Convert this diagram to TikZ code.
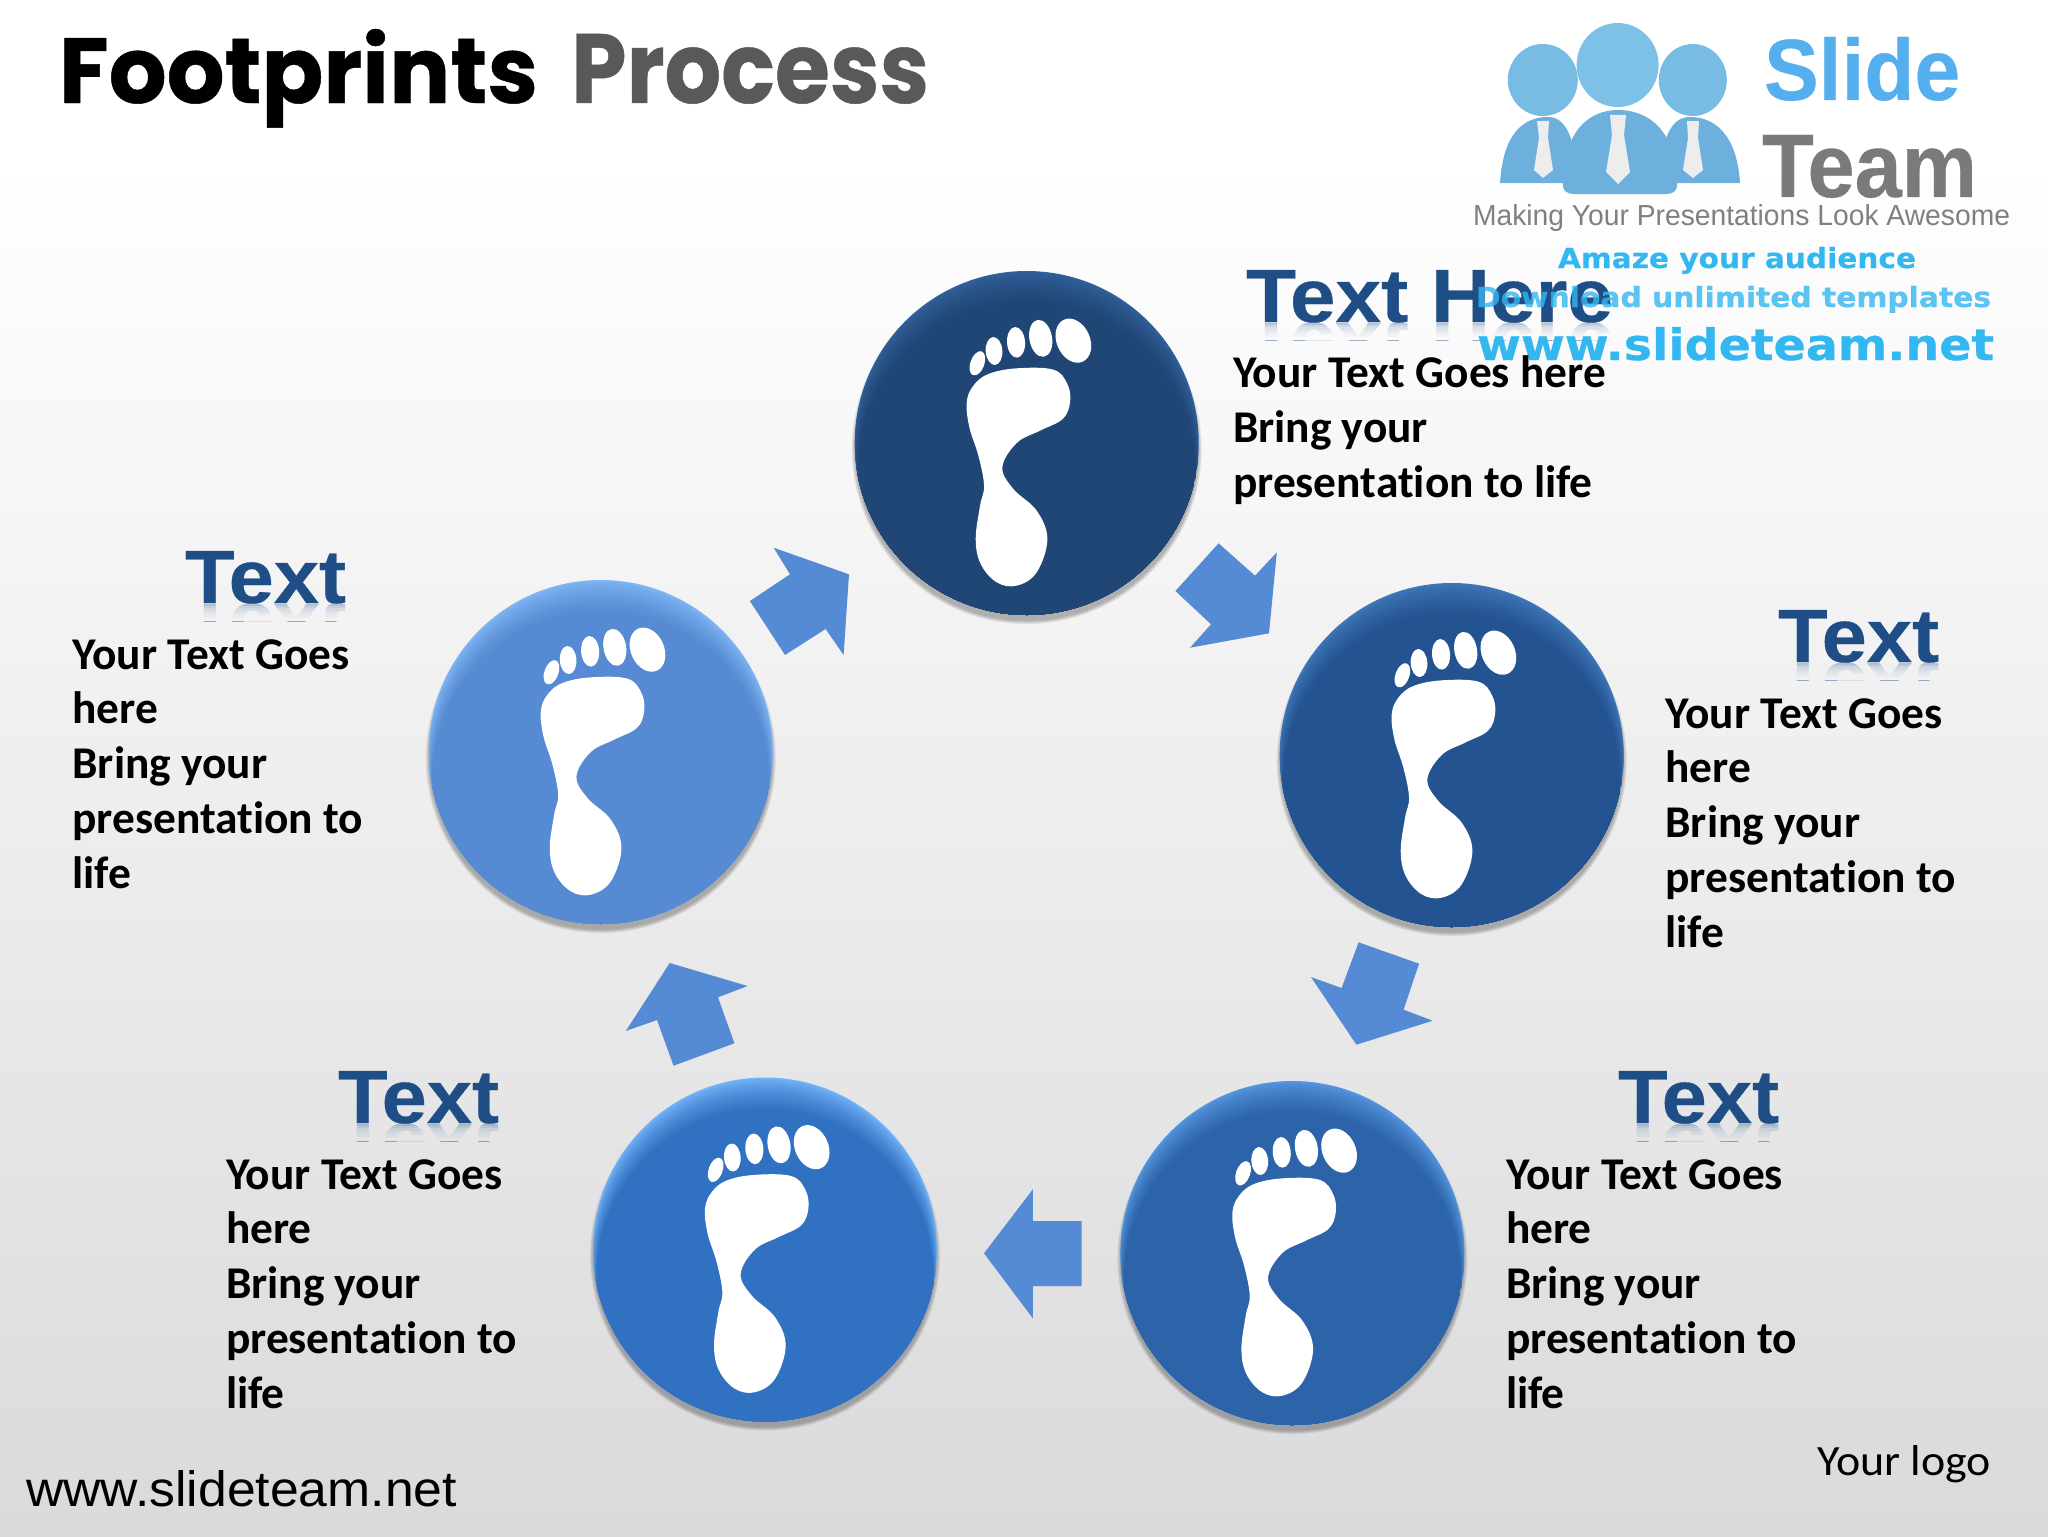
\documentclass[tikz,border=0pt]{standalone}
\usepackage{fontspec}
\usepackage{graphicx}
\setmainfont{Liberation Sans}
\newfontfamily\bodyfont[Ligatures=NoCommon]{Carlito}
\newfontfamily\titlefont[FakeBold=0.5]{Poppins Bold}
\newfontfamily\webfont[FakeBold=0.5]{DejaVu Sans Bold}
\newfontfamily\headfont[FakeBold=0.4]{Liberation Sans Bold}
\newdimen\pxu \pxu=.5pt
\definecolor{headblue}{HTML}{1F4E86}
\definecolor{arrowblue}{HTML}{558BD5}
\definecolor{logoblue}{HTML}{6DB0DE}
\definecolor{logohead}{HTML}{7DC2E6}
\definecolor{logoside}{HTML}{78BBE3}
\definecolor{logotext}{HTML}{55AEEE}
\definecolor{webblue}{HTML}{33B7F1}
\definecolor{bgbottom}{HTML}{DADADC}
\tikzset{
  x=.5pt,y=-.5pt,
  txt/.style={inner sep=0pt,outer sep=0pt,anchor=base west},
  bodytxt/.style={inner sep=0pt,outer sep=0pt,anchor=north west,align=left,text=black,
    font=\bodyfont\bfseries\fontsize{22.7}{27.45}\selectfont},
  flowarrow/.style={fill=arrowblue},
  ballnode/.style={circle,minimum size=172pt,inner sep=0pt,outer sep=0pt}
}
% name x baseline width height colour font text
\newcommand{\fittext}[8]{\node[txt,text=#6,font=#7] (#1) at (#2,#3) {\resizebox{#4\pxu}{#5\pxu}{#8}};}
% heading with reflection: name x baseline width text
\newcommand{\headlabel}[5]{%
  \pgfmathsetmacro\bgf{(#3-159)/13.77}%
  \colorlet{hbg}{bgbottom!\bgf!white}%
  \colorlet{hrefl}{headblue!45!hbg}%
  \node[txt,text=headblue,font=\headfont] (#1) at (#2,#3) {\resizebox{#4\pxu}{52\pxu}{#5}};
  \begin{scope}
    \clip (#2-2,#3+1) rectangle (#2+#4+2,#3+18);
    \node[txt,text=hrefl,font=\headfont] (#1r) at (#2,#3+1) {\scalebox{1}[-1]{\resizebox{#4\pxu}{52\pxu}{#5}}};
    \foreach \k in {0,...,6}{\fill[hbg,opacity=.32] (#2-2,#3+1+\k*2.2) rectangle (#2+#4+2,#3+18);}
    \fill[hbg] (#2-2,#3+15) rectangle (#2+#4+2,#3+18);
  \end{scope}}
% the foot, in a coordinate system of one third of a pixel
\newcommand{\foot}[1]{%
  \begin{scope}[shift={(#1)},x=.16667pt,y=-.16667pt,shift={(-560,-552)}]
    \fill[white] plot[smooth cycle,tension=.62] coordinates {
      (530,328) (640,332) (682,375) (690,430) (668,480) (600,515) (530,552) (487,625)
      (520,690) (590,755) (622,840) (590,940) (530,980) (470,970) (422,915) (407,840)
      (420,740) (432,680) (415,590) (388,505) (380,430) (400,380) (445,345)};
    \fill[white,rotate around={24:(700,245)}] (700,245) ellipse (50 and 69);
    \fill[white,rotate around={10:(602,238)}] (602,238) ellipse (34 and 56);
    \fill[white,rotate around={4:(528,250)}] (528,250) ellipse (27 and 46);
    \fill[white,rotate around={4:(462,276)}] (462,276) ellipse (25 and 42);
    \fill[white,rotate around={-20:(412,313)}] (412,313) ellipse (21 and 38);
  \end{scope}}
% name x y base light
\newcommand{\ball}[5]{%
  \definecolor{ballbase}{HTML}{#4}\definecolor{balllight}{HTML}{#5}%
  \foreach \s in {6,5,4,3,2,1}{\fill[black,opacity=.05] (#2,#3+6) circle[radius=171+\s*.7];}
  \node[ballnode,fill=balllight] (#1) at (#2,#3) {};
  \begin{scope}
    \clip (#2,#3) circle[radius=172];
    \foreach \d in {1,...,20}{
      \pgfmathsetmacro\mixv{100*(\d/20)^.75}
      \fill[ballbase!\mixv!balllight] (#2,#3+\d*1.35) circle[radius=172-\d*.2];
    }
  \end{scope}
  \foot{#2,#3}}
\begin{document}
\begin{tikzpicture}
\useasboundingbox (0,0) rectangle (2048,1536);
\fill[white] (0,0) rectangle (2048,160);
\shade[top color=white,bottom color=bgbottom] (0,159) rectangle (2048,1536);

% title
\fittext{title1}{59}{103}{479}{74}{black}{\titlefont}{Footprints}
\fittext{title2}{571}{103}{358}{69}{black!65}{\titlefont}{Process}

% headings
\headlabel{headtop}{1246}{322}{367}{Text Here}
\headlabel{headleft}{185}{603}{161}{Text}
\headlabel{headright}{1778}{662}{161}{Text}
\headlabel{headbl}{338}{1123}{161}{Text}
\headlabel{headbr}{1618}{1123}{161}{Text}

% logo
\fill[logoside] (1542.8,80) ellipse (35 and 36);
\fill[logoside] (1692.8,80) ellipse (34 and 36);
\fill[logohead] (1617.6,65) ellipse (41 and 42);
\fill[logoblue] (1500,183) .. controls (1503,135) and (1522,117) .. (1548,117) .. controls (1565,117) and (1575,135) .. (1578,183) -- cycle;
\fill[logoblue] (1740,183) .. controls (1737,135) and (1715,117) .. (1690,117) .. controls (1672,117) and (1662,135) .. (1658,183) -- cycle;
\fill[logoblue] (1563,185) .. controls (1563,130) and (1590,110) .. (1618,110) .. controls (1648,110) and (1677,130) .. (1677,185) .. controls (1677,192) and (1672,194) .. (1665,194) -- (1575,194) .. controls (1568,194) and (1563,192) .. (1563,185) -- cycle;
\fill[white!93!black] (1537,121) -- (1549,121) -- (1548,138) -- (1553,170) -- (1543,178) -- (1534,170) -- (1539,138) -- cycle;
\fill[white!93!black] (1687,121) -- (1699,121) -- (1698,138) -- (1703,170) -- (1693,178) -- (1683,170) -- (1688,138) -- cycle;
\fill[white!93!black] (1610,115) -- (1626,115) -- (1624,135) -- (1630,172) -- (1618,184) -- (1606,172) -- (1612,135) -- cycle;
\fittext{logoslide}{1764}{100}{196}{63}{logotext}{\headfont}{Slide}
\fittext{logoteam}{1762}{197}{215}{62}{black!52}{\headfont}{Team}
\fittext{logotag}{1473}{225}{537}{21}{black!50}{}{Making Your Presentations Look Awesome}
\fittext{logoamaze}{1558}{268}{358}{21}{webblue}{\webfont}{Amaze your audience}
\begin{scope}[opacity=.8]
\fittext{logodown}{1476}{307}{515}{21}{webblue}{\webfont}{Download unlimited templates}
\end{scope}
\fittext{logoweb}{1477}{360}{517}{33}{webblue}{\webfont}{www.slideteam.net}

% circles
\ball{ctop}{1026.7}{443}{1F4675}{32609A}
\ball{cright}{1451.7}{755}{245391}{3F77B8}
\ball{cbr}{1292.4}{1253}{2C63A9}{5596DE}
\ball{cbl}{765}{1249.5}{3171C2}{72B4F8}
\ball{cleft}{600.8}{752}{568AD2}{7FB6F4}

% arrows
\fill[flowarrow] (773.6,547.7) -- (849,574.3) -- (843.6,655) -- (825.6,629) -- (785,655) -- (749.9,601) -- (790,574.3) -- cycle;
\fill[flowarrow] (1218.6,543.3) -- (1255,575.7) -- (1276.8,552.3) -- (1269,633.3) -- (1190,647.7) -- (1211,624.3) -- (1175.4,591) -- cycle;
\fill[flowarrow] (1358.6,942.3) -- (1419,963.7) -- (1403.6,1009.7) -- (1432.7,1020.7) -- (1356.4,1044.7) -- (1310.9,977) -- (1341.6,988) -- cycle;
\fill[flowarrow] (984,1253.3) -- (1032.8,1189.3) -- (1032.8,1221) -- (1081.6,1221) -- (1081.6,1286) -- (1032.8,1286) -- (1032.8,1318.3) -- cycle;
\fill[flowarrow] (669.7,963) -- (747.6,986) -- (718,997.3) -- (734.4,1043.3) -- (673.5,1065.7) -- (657,1020) -- (625.8,1031) -- cycle;

% body texts (first baseline = node top + 40 px)
\node[bodytxt] (bodytop) at (1233,347.5) {\rule{0pt}{20pt}Your Text Goes here\\Bring your\\presentation to life};
\node[bodytxt] (bodyleft) at (72.5,629) {\rule{0pt}{20pt}Your Text Goes\\here\\Bring your\\presentation to\\life};
\node[bodytxt] (bodyright) at (1665.5,688) {\rule{0pt}{20pt}Your Text Goes\\here\\Bring your\\presentation to\\life};
\node[bodytxt] (bodybl) at (226,1149) {\rule{0pt}{20pt}Your Text Goes\\here\\Bring your\\presentation to\\life};
\node[bodytxt] (bodybr) at (1506,1149) {\rule{0pt}{20pt}Your Text Goes\\here\\Bring your\\presentation to\\life};

% footer
\fittext{footweb}{26}{1506}{431}{36}{black}{}{www.slideteam.net}
\fittext{footlogo}{1817}{1475}{174}{30}{black}{\bodyfont}{Your logo}
\end{tikzpicture}
\end{document}
